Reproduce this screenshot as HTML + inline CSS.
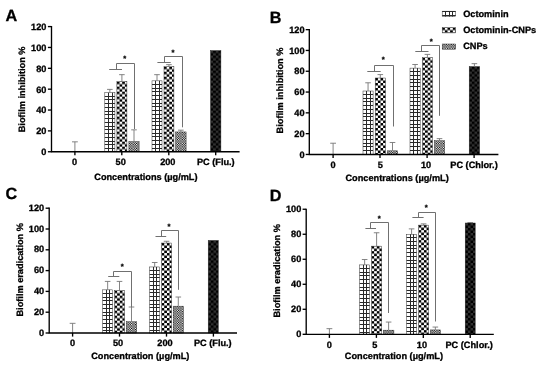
<!DOCTYPE html>
<html><head><meta charset="utf-8"><title>Figure</title>
<style>
html,body{margin:0;padding:0;background:#fff;}
svg{display:block;}
text{text-rendering:geometricPrecision;font-family:"Liberation Sans",Arial,sans-serif;font-weight:bold;fill:#000;stroke:#000;stroke-width:0.3px;}
.axl{stroke:#000;stroke-width:1.35;fill:none;}
.eb{stroke:#767676;stroke-width:0.9;fill:none;}
.br{stroke:#707070;stroke-width:1;fill:none;}
.gl{stroke:#2a2a2a;stroke-width:1;fill:none;}
</style></head><body>
<svg width="550" height="367" viewBox="0 0 550 367">
<rect width="550" height="367" fill="#fff"/>
<defs>
<pattern id="grid" width="3.55" height="3.75" patternUnits="userSpaceOnUse">
<rect width="3.55" height="3.75" fill="#fff"/><path d="M0 0H3.55M0 0V3.75M0 3.75H3.55M3.55 0V3.75" stroke="#000" stroke-width="1"/></pattern>
<pattern id="chk" width="5.3" height="5" patternUnits="userSpaceOnUse">
<rect width="5.3" height="5" fill="#fff"/><rect y="0" width="2.65" height="2.5" fill="#000"/><rect x="2.65" y="2.5" width="2.65" height="2.5" fill="#000"/></pattern>
<pattern id="fine" width="2.4" height="2.4" patternUnits="userSpaceOnUse">
<rect width="2.4" height="2.4" fill="#fff"/><rect y="1.2" width="1.2" height="1.2" fill="#000"/><rect x="1.2" y="0" width="1.2" height="1.2" fill="#000"/></pattern>
<pattern id="dark" width="5.3" height="5" patternUnits="userSpaceOnUse">
<rect width="5.3" height="5" fill="#000"/><rect width="2.65" height="2.5" fill="#303030"/><rect x="2.65" y="2.5" width="2.65" height="2.5" fill="#303030"/></pattern>
</defs>
<text x="5.60" y="20.50" font-size="16.2" text-anchor="start" >A</text>
<rect x="104.80" y="92.72" width="10.10" height="59.03" fill="#fff" stroke="#333" stroke-width="0.5"/>
<path d="M108.5 92.72V151.75M112.5 92.72V151.75M104.80 96.5H114.90M104.80 99.5H114.90M104.80 103.5H114.90M104.80 107.5H114.90M104.80 111.5H114.90M104.80 114.5H114.90M104.80 118.5H114.90M104.80 122.5H114.90M104.80 126.5H114.90M104.80 129.5H114.90M104.80 133.5H114.90M104.80 137.5H114.90M104.80 141.5H114.90M104.80 144.5H114.90M104.80 148.5H114.90" class="gl"/>
<path d="M109.85 92.72V89.38M107.05 89.38H112.65" class="eb"/>
<g transform="translate(116.90 81.66)"><rect x="0" y="0" width="10.00" height="70.09" fill="url(#chk)" stroke="#222" stroke-width="0.45"/></g>
<path d="M121.90 81.66V74.67M119.10 74.67H124.70" class="eb"/>
<g transform="translate(128.90 141.63)"><rect x="0" y="0" width="10.20" height="10.12" fill="url(#fine)" stroke="#222" stroke-width="0.45"/></g>
<path d="M134.00 141.63V129.85M131.20 129.85H136.80" class="eb"/>
<rect x="152.00" y="80.83" width="10.00" height="70.92" fill="#fff" stroke="#333" stroke-width="0.5"/>
<path d="M155.5 80.83V151.75M159.5 80.83V151.75M152.00 84.5H162.00M152.00 88.5H162.00M152.00 91.5H162.00M152.00 95.5H162.00M152.00 99.5H162.00M152.00 103.5H162.00M152.00 106.5H162.00M152.00 110.5H162.00M152.00 114.5H162.00M152.00 118.5H162.00M152.00 121.5H162.00M152.00 125.5H162.00M152.00 129.5H162.00M152.00 133.5H162.00M152.00 136.5H162.00M152.00 140.5H162.00M152.00 144.5H162.00M152.00 148.5H162.00" class="gl"/>
<path d="M157.00 80.83V74.67M154.20 74.67H159.80" class="eb"/>
<g transform="translate(164.00 66.75)"><rect x="0" y="0" width="9.90" height="85.00" fill="url(#chk)" stroke="#222" stroke-width="0.45"/></g>
<path d="M168.95 66.75V64.66M166.15 64.66H171.75" class="eb"/>
<g transform="translate(175.60 131.93)"><rect x="0" y="0" width="10.50" height="19.82" fill="url(#fine)" stroke="#222" stroke-width="0.45"/></g>
<path d="M180.85 131.93V130.16M178.05 130.16H183.65" class="eb"/>
<g transform="translate(210.50 50.58)"><rect x="0" y="0" width="10.40" height="101.17" fill="url(#dark)" stroke="#222" stroke-width="0.45"/></g>
<path d="M74.90 151.75V141.84M72.00 141.84H77.80" class="eb"/>
<path d="M109.20 69.50H122.00M116.50 69.50V63.50H134.50V129.00" class="br"/>
<text x="124.70" y="60.70" font-size="7.6" text-anchor="middle" stroke-width="0">*</text>
<path d="M157.40 62.50H170.70M164.50 62.50V56.50H182.50V127.30" class="br"/>
<text x="173.00" y="55.30" font-size="7.6" text-anchor="middle" stroke-width="0">*</text>
<path d="M51.50 25.99V151.75M50.90 151.75H239.60" class="axl"/>
<path d="M47.90 151.75H51.50" class="axl"/>
<text x="46.40" y="155.20" font-size="9.2" text-anchor="end" >0</text>
<path d="M47.90 130.89H51.50" class="axl"/>
<text x="46.40" y="134.34" font-size="9.2" text-anchor="end" >20</text>
<path d="M47.90 110.03H51.50" class="axl"/>
<text x="46.40" y="113.48" font-size="9.2" text-anchor="end" >40</text>
<path d="M47.90 89.17H51.50" class="axl"/>
<text x="46.40" y="92.62" font-size="9.2" text-anchor="end" >60</text>
<path d="M47.90 68.31H51.50" class="axl"/>
<text x="46.40" y="71.76" font-size="9.2" text-anchor="end" >80</text>
<path d="M47.90 47.45H51.50" class="axl"/>
<text x="46.40" y="50.90" font-size="9.2" text-anchor="end" >100</text>
<path d="M47.90 26.59H51.50" class="axl"/>
<text x="46.40" y="30.04" font-size="9.2" text-anchor="end" >120</text>
<path d="M74.90 151.75V155.35" class="axl"/>
<text x="74.60" y="165.00" font-size="9.2" text-anchor="middle" >0</text>
<path d="M121.80 151.75V155.35" class="axl"/>
<text x="120.70" y="165.00" font-size="9.2" text-anchor="middle" >50</text>
<path d="M168.80 151.75V155.35" class="axl"/>
<text x="167.80" y="165.00" font-size="9.2" text-anchor="middle" >200</text>
<path d="M215.70 151.75V155.35" class="axl"/>
<text x="215.80" y="165.00" font-size="9.2" text-anchor="middle" >PC (Flu.)</text>
<text x="145.90" y="179.50" font-size="9.2" text-anchor="middle" >Concentrations (µg/mL)</text>
<text transform="translate(24.60 89.40) rotate(-90)" font-size="9.2" text-anchor="middle">Biofilm inhibition %</text>
<text x="269.70" y="22.80" font-size="16.2" text-anchor="start" >B</text>
<rect x="363.00" y="91.01" width="10.10" height="63.44" fill="#fff" stroke="#333" stroke-width="0.5"/>
<path d="M366.5 91.01V154.45M370.5 91.01V154.45M363.00 94.5H373.10M363.00 98.5H373.10M363.00 101.5H373.10M363.00 105.5H373.10M363.00 109.5H373.10M363.00 113.5H373.10M363.00 116.5H373.10M363.00 120.5H373.10M363.00 124.5H373.10M363.00 128.5H373.10M363.00 131.5H373.10M363.00 135.5H373.10M363.00 139.5H373.10M363.00 143.5H373.10M363.00 146.5H373.10M363.00 150.5H373.10" class="gl"/>
<path d="M368.05 91.01V82.79M365.25 82.79H370.85" class="eb"/>
<g transform="translate(375.20 78.01)"><rect x="0" y="0" width="10.20" height="76.44" fill="url(#chk)" stroke="#222" stroke-width="0.45"/></g>
<path d="M380.30 78.01V74.58M377.50 74.58H383.10" class="eb"/>
<g transform="translate(387.30 150.81)"><rect x="0" y="0" width="10.40" height="3.64" fill="url(#fine)" stroke="#222" stroke-width="0.45"/></g>
<path d="M392.50 150.81V142.49M389.70 142.49H395.30" class="eb"/>
<rect x="410.00" y="68.13" width="10.20" height="86.32" fill="#fff" stroke="#333" stroke-width="0.5"/>
<path d="M413.5 68.13V154.45M417.5 68.13V154.45M410.00 71.5H420.20M410.00 75.5H420.20M410.00 79.5H420.20M410.00 82.5H420.20M410.00 86.5H420.20M410.00 90.5H420.20M410.00 94.5H420.20M410.00 97.5H420.20M410.00 101.5H420.20M410.00 105.5H420.20M410.00 109.5H420.20M410.00 112.5H420.20M410.00 116.5H420.20M410.00 120.5H420.20M410.00 124.5H420.20M410.00 127.5H420.20M410.00 131.5H420.20M410.00 135.5H420.20M410.00 139.5H420.20M410.00 142.5H420.20M410.00 146.5H420.20M410.00 150.5H420.20" class="gl"/>
<path d="M415.10 68.13V64.49M412.30 64.49H417.90" class="eb"/>
<g transform="translate(422.40 57.73)"><rect x="0" y="0" width="10.00" height="96.72" fill="url(#chk)" stroke="#222" stroke-width="0.45"/></g>
<path d="M427.40 57.73V54.40M424.60 54.40H430.20" class="eb"/>
<g transform="translate(434.40 140.72)"><rect x="0" y="0" width="10.20" height="13.73" fill="url(#fine)" stroke="#222" stroke-width="0.45"/></g>
<path d="M439.50 140.72V138.64M436.70 138.64H442.30" class="eb"/>
<g transform="translate(469.20 66.57)"><rect x="0" y="0" width="10.40" height="87.88" fill="url(#dark)" stroke="#222" stroke-width="0.45"/></g>
<path d="M474.40 66.57V63.66M471.60 63.66H477.20" class="eb"/>
<path d="M333.10 154.45V143.22M330.20 143.22H336.00" class="eb"/>
<path d="M367.30 71.50H380.70M374.50 71.50V65.50H393.50V126.50" class="br"/>
<text x="383.20" y="62.10" font-size="7.6" text-anchor="middle" stroke-width="0">*</text>
<path d="M415.30 51.50H428.50M421.50 51.50V45.50H439.50V115.80" class="br"/>
<text x="431.20" y="44.20" font-size="7.6" text-anchor="middle" stroke-width="0">*</text>
<path d="M309.30 29.05V154.45M308.70 154.45H498.40" class="axl"/>
<path d="M305.70 154.45H309.30" class="axl"/>
<text x="304.60" y="157.50" font-size="9.2" text-anchor="end" >0</text>
<path d="M305.70 133.65H309.30" class="axl"/>
<text x="304.60" y="136.70" font-size="9.2" text-anchor="end" >20</text>
<path d="M305.70 112.85H309.30" class="axl"/>
<text x="304.60" y="115.90" font-size="9.2" text-anchor="end" >40</text>
<path d="M305.70 92.05H309.30" class="axl"/>
<text x="304.60" y="95.10" font-size="9.2" text-anchor="end" >60</text>
<path d="M305.70 71.25H309.30" class="axl"/>
<text x="304.60" y="74.30" font-size="9.2" text-anchor="end" >80</text>
<path d="M305.70 50.45H309.30" class="axl"/>
<text x="304.60" y="53.50" font-size="9.2" text-anchor="end" >100</text>
<path d="M305.70 29.65H309.30" class="axl"/>
<text x="304.60" y="32.70" font-size="9.2" text-anchor="end" >120</text>
<path d="M333.10 154.45V158.05" class="axl"/>
<text x="333.10" y="167.90" font-size="9.2" text-anchor="middle" >0</text>
<path d="M380.00 154.45V158.05" class="axl"/>
<text x="380.20" y="167.90" font-size="9.2" text-anchor="middle" >5</text>
<path d="M427.10 154.45V158.05" class="axl"/>
<text x="426.00" y="167.90" font-size="9.2" text-anchor="middle" >10</text>
<path d="M474.10 154.45V158.05" class="axl"/>
<text x="474.00" y="167.90" font-size="9.2" text-anchor="middle" >PC (Chlor.)</text>
<text x="397.10" y="180.50" font-size="9.2" text-anchor="middle" >Concentrations (µg/mL)</text>
<text transform="translate(283.10 90.50) rotate(-90)" font-size="9.2" text-anchor="middle">Biofilm inhibition %</text>
<text x="5.60" y="198.80" font-size="16.2" text-anchor="start" >C</text>
<rect x="102.70" y="289.84" width="9.90" height="43.16" fill="#fff" stroke="#333" stroke-width="0.5"/>
<path d="M106.5 289.84V333.00M109.5 289.84V333.00M102.70 293.5H112.60M102.70 297.5H112.60M102.70 300.5H112.60M102.70 304.5H112.60M102.70 308.5H112.60M102.70 312.5H112.60M102.70 315.5H112.60M102.70 319.5H112.60M102.70 323.5H112.60M102.70 327.5H112.60M102.70 330.5H112.60" class="gl"/>
<path d="M107.65 289.84V281.42M104.85 281.42H110.45" class="eb"/>
<g transform="translate(114.50 290.67)"><rect x="0" y="0" width="10.00" height="42.33" fill="url(#chk)" stroke="#222" stroke-width="0.45"/></g>
<path d="M119.50 290.67V281.42M116.70 281.42H122.30" class="eb"/>
<g transform="translate(126.30 321.77)"><rect x="0" y="0" width="10.40" height="11.23" fill="url(#fine)" stroke="#222" stroke-width="0.45"/></g>
<path d="M131.50 321.77V307.00M128.70 307.00H134.30" class="eb"/>
<rect x="149.70" y="266.96" width="10.00" height="66.04" fill="#fff" stroke="#333" stroke-width="0.5"/>
<path d="M153.5 266.96V333.00M156.5 266.96V333.00M149.70 270.5H159.70M149.70 274.5H159.70M149.70 277.5H159.70M149.70 281.5H159.70M149.70 285.5H159.70M149.70 289.5H159.70M149.70 292.5H159.70M149.70 296.5H159.70M149.70 300.5H159.70M149.70 304.5H159.70M149.70 307.5H159.70M149.70 311.5H159.70M149.70 315.5H159.70M149.70 319.5H159.70M149.70 322.5H159.70M149.70 326.5H159.70M149.70 330.5H159.70" class="gl"/>
<path d="M154.70 266.96V262.49M151.90 262.49H157.50" class="eb"/>
<g transform="translate(161.60 243.04)"><rect x="0" y="0" width="9.90" height="89.96" fill="url(#chk)" stroke="#222" stroke-width="0.45"/></g>
<path d="M166.55 243.04V241.27M163.75 241.27H169.35" class="eb"/>
<g transform="translate(173.20 306.17)"><rect x="0" y="0" width="10.20" height="26.83" fill="url(#fine)" stroke="#222" stroke-width="0.45"/></g>
<path d="M178.30 306.17V297.02M175.50 297.02H181.10" class="eb"/>
<g transform="translate(208.20 240.44)"><rect x="0" y="0" width="10.10" height="92.56" fill="url(#dark)" stroke="#222" stroke-width="0.45"/></g>
<path d="M72.60 333.00V323.33M69.70 323.33H75.50" class="eb"/>
<path d="M108.20 276.50H119.30M113.50 276.50V271.50H131.50V307.00" class="br"/>
<text x="122.30" y="269.30" font-size="7.6" text-anchor="middle" stroke-width="0">*</text>
<path d="M155.50 236.50H166.20M161.50 236.50V230.50H178.50V289.80" class="br"/>
<text x="169.10" y="228.90" font-size="7.6" text-anchor="middle" stroke-width="0">*</text>
<path d="M49.20 207.60V333.00M48.60 333.00H237.00" class="axl"/>
<path d="M45.60 333.00H49.20" class="axl"/>
<text x="44.20" y="335.65" font-size="9.2" text-anchor="end" >0</text>
<path d="M45.60 312.20H49.20" class="axl"/>
<text x="44.20" y="314.85" font-size="9.2" text-anchor="end" >20</text>
<path d="M45.60 291.40H49.20" class="axl"/>
<text x="44.20" y="294.05" font-size="9.2" text-anchor="end" >40</text>
<path d="M45.60 270.60H49.20" class="axl"/>
<text x="44.20" y="273.25" font-size="9.2" text-anchor="end" >60</text>
<path d="M45.60 249.80H49.20" class="axl"/>
<text x="44.20" y="252.45" font-size="9.2" text-anchor="end" >80</text>
<path d="M45.60 229.00H49.20" class="axl"/>
<text x="44.20" y="231.65" font-size="9.2" text-anchor="end" >100</text>
<path d="M45.60 208.20H49.20" class="axl"/>
<text x="44.20" y="210.85" font-size="9.2" text-anchor="end" >120</text>
<path d="M72.60 333.00V336.60" class="axl"/>
<text x="72.60" y="346.20" font-size="9.2" text-anchor="middle" >0</text>
<path d="M119.50 333.00V336.60" class="axl"/>
<text x="118.00" y="346.20" font-size="9.2" text-anchor="middle" >50</text>
<path d="M166.50 333.00V336.60" class="axl"/>
<text x="165.00" y="346.20" font-size="9.2" text-anchor="middle" >200</text>
<path d="M213.40 333.00V336.60" class="axl"/>
<text x="212.80" y="346.20" font-size="9.2" text-anchor="middle" >PC (Flu.)</text>
<text x="140.30" y="358.80" font-size="9.2" text-anchor="middle" >Concentration (µg/mL)</text>
<text transform="translate(23.20 269.80) rotate(-90)" font-size="9.2" text-anchor="middle">Biofilm eradication %</text>
<text x="269.70" y="200.90" font-size="16.2" text-anchor="start" >D</text>
<rect x="359.70" y="264.90" width="9.90" height="69.40" fill="#fff" stroke="#333" stroke-width="0.5"/>
<path d="M363.5 264.90V334.30M366.5 264.90V334.30M359.70 268.5H369.60M359.70 272.5H369.60M359.70 275.5H369.60M359.70 279.5H369.60M359.70 283.5H369.60M359.70 287.5H369.60M359.70 290.5H369.60M359.70 294.5H369.60M359.70 298.5H369.60M359.70 302.5H369.60M359.70 305.5H369.60M359.70 309.5H369.60M359.70 313.5H369.60M359.70 317.5H369.60M359.70 320.5H369.60M359.70 324.5H369.60M359.70 328.5H369.60M359.70 332.5H369.60" class="gl"/>
<path d="M364.65 264.90V259.52M361.85 259.52H367.45" class="eb"/>
<g transform="translate(371.50 246.14)"><rect x="0" y="0" width="10.20" height="88.16" fill="url(#chk)" stroke="#222" stroke-width="0.45"/></g>
<path d="M376.60 246.14V232.76M373.80 232.76H379.40" class="eb"/>
<g transform="translate(383.30 330.17)"><rect x="0" y="0" width="10.60" height="4.13" fill="url(#fine)" stroke="#222" stroke-width="0.45"/></g>
<path d="M388.60 330.17V322.05M385.80 322.05H391.40" class="eb"/>
<rect x="406.60" y="234.26" width="10.00" height="100.04" fill="#fff" stroke="#333" stroke-width="0.5"/>
<path d="M410.5 234.26V334.30M413.5 234.26V334.30M406.60 237.5H416.60M406.60 241.5H416.60M406.60 245.5H416.60M406.60 248.5H416.60M406.60 252.5H416.60M406.60 256.5H416.60M406.60 260.5H416.60M406.60 263.5H416.60M406.60 267.5H416.60M406.60 271.5H416.60M406.60 275.5H416.60M406.60 278.5H416.60M406.60 282.5H416.60M406.60 286.5H416.60M406.60 290.5H416.60M406.60 293.5H416.60M406.60 297.5H416.60M406.60 301.5H416.60M406.60 305.5H416.60M406.60 308.5H416.60M406.60 312.5H416.60M406.60 316.5H416.60M406.60 320.5H416.60M406.60 323.5H416.60M406.60 327.5H416.60M406.60 331.5H416.60" class="gl"/>
<path d="M411.60 234.26V228.88M408.80 228.88H414.40" class="eb"/>
<g transform="translate(418.60 225.13)"><rect x="0" y="0" width="10.00" height="109.17" fill="url(#chk)" stroke="#222" stroke-width="0.45"/></g>
<path d="M423.60 225.13V223.88M420.80 223.88H426.40" class="eb"/>
<g transform="translate(430.30 329.92)"><rect x="0" y="0" width="10.10" height="4.38" fill="url(#fine)" stroke="#222" stroke-width="0.45"/></g>
<path d="M435.35 329.92V327.05M432.55 327.05H438.15" class="eb"/>
<g transform="translate(465.20 223.01)"><rect x="0" y="0" width="10.00" height="111.29" fill="url(#dark)" stroke="#222" stroke-width="0.45"/></g>
<path d="M470.20 223.01V222.51M467.40 222.51H473.00" class="eb"/>
<path d="M329.40 334.30V328.67M326.50 328.67H332.30" class="eb"/>
<path d="M365.40 228.50H376.00M370.50 228.50V222.50H388.50V313.00" class="br"/>
<text x="379.30" y="220.60" font-size="7.6" text-anchor="middle" stroke-width="0">*</text>
<path d="M412.40 217.50H423.60M418.50 217.50V212.50H435.50V321.50" class="br"/>
<text x="426.20" y="210.30" font-size="7.6" text-anchor="middle" stroke-width="0">*</text>
<path d="M306.20 208.65V334.30M305.60 334.30H493.80" class="axl"/>
<path d="M302.60 334.30H306.20" class="axl"/>
<text x="301.30" y="337.00" font-size="9.2" text-anchor="end" >0</text>
<path d="M302.60 309.29H306.20" class="axl"/>
<text x="301.30" y="311.99" font-size="9.2" text-anchor="end" >20</text>
<path d="M302.60 284.28H306.20" class="axl"/>
<text x="301.30" y="286.98" font-size="9.2" text-anchor="end" >40</text>
<path d="M302.60 259.27H306.20" class="axl"/>
<text x="301.30" y="261.97" font-size="9.2" text-anchor="end" >60</text>
<path d="M302.60 234.26H306.20" class="axl"/>
<text x="301.30" y="236.96" font-size="9.2" text-anchor="end" >80</text>
<path d="M302.60 209.25H306.20" class="axl"/>
<text x="301.30" y="211.95" font-size="9.2" text-anchor="end" >100</text>
<path d="M329.40 334.30V337.90" class="axl"/>
<text x="329.40" y="347.70" font-size="9.2" text-anchor="middle" >0</text>
<path d="M376.40 334.30V337.90" class="axl"/>
<text x="374.90" y="347.70" font-size="9.2" text-anchor="middle" >5</text>
<path d="M423.30 334.30V337.90" class="axl"/>
<text x="421.90" y="347.70" font-size="9.2" text-anchor="middle" >10</text>
<path d="M470.20 334.30V337.90" class="axl"/>
<text x="469.20" y="347.70" font-size="9.2" text-anchor="middle" >PC (Chlor.)</text>
<text x="393.90" y="358.80" font-size="9.2" text-anchor="middle" >Concentration (µg/mL)</text>
<text transform="translate(279.80 270.80) rotate(-90)" font-size="9.2" text-anchor="middle">Biofilm eradication %</text>
<rect x="442.2" y="11.2" width="13.5" height="5.30" fill="#fff" stroke="#333" stroke-width="0.5"/>
<path d="M445.5 11.2V16.5M449.5 11.2V16.5M452.5 11.2V16.5M442.2 15.5H455.7M442.2 11.5H455.7" class="gl"/>
<text x="463.20" y="17.00" font-size="9.2" text-anchor="start" >Octominin</text>
<g transform="translate(442.2 27.6)"><rect x="0" y="0" width="13.5" height="5.30" fill="url(#chk)" stroke="#222" stroke-width="0.45"/></g>
<text x="463.20" y="33.20" font-size="9.2" text-anchor="start" >Octominin-CNPs</text>
<g transform="translate(442.2 44)"><rect x="0" y="0" width="13.5" height="5.20" fill="url(#fine)" stroke="#222" stroke-width="0.45"/></g>
<text x="463.20" y="49.30" font-size="9.2" text-anchor="start" >CNPs</text>
</svg></body></html>
